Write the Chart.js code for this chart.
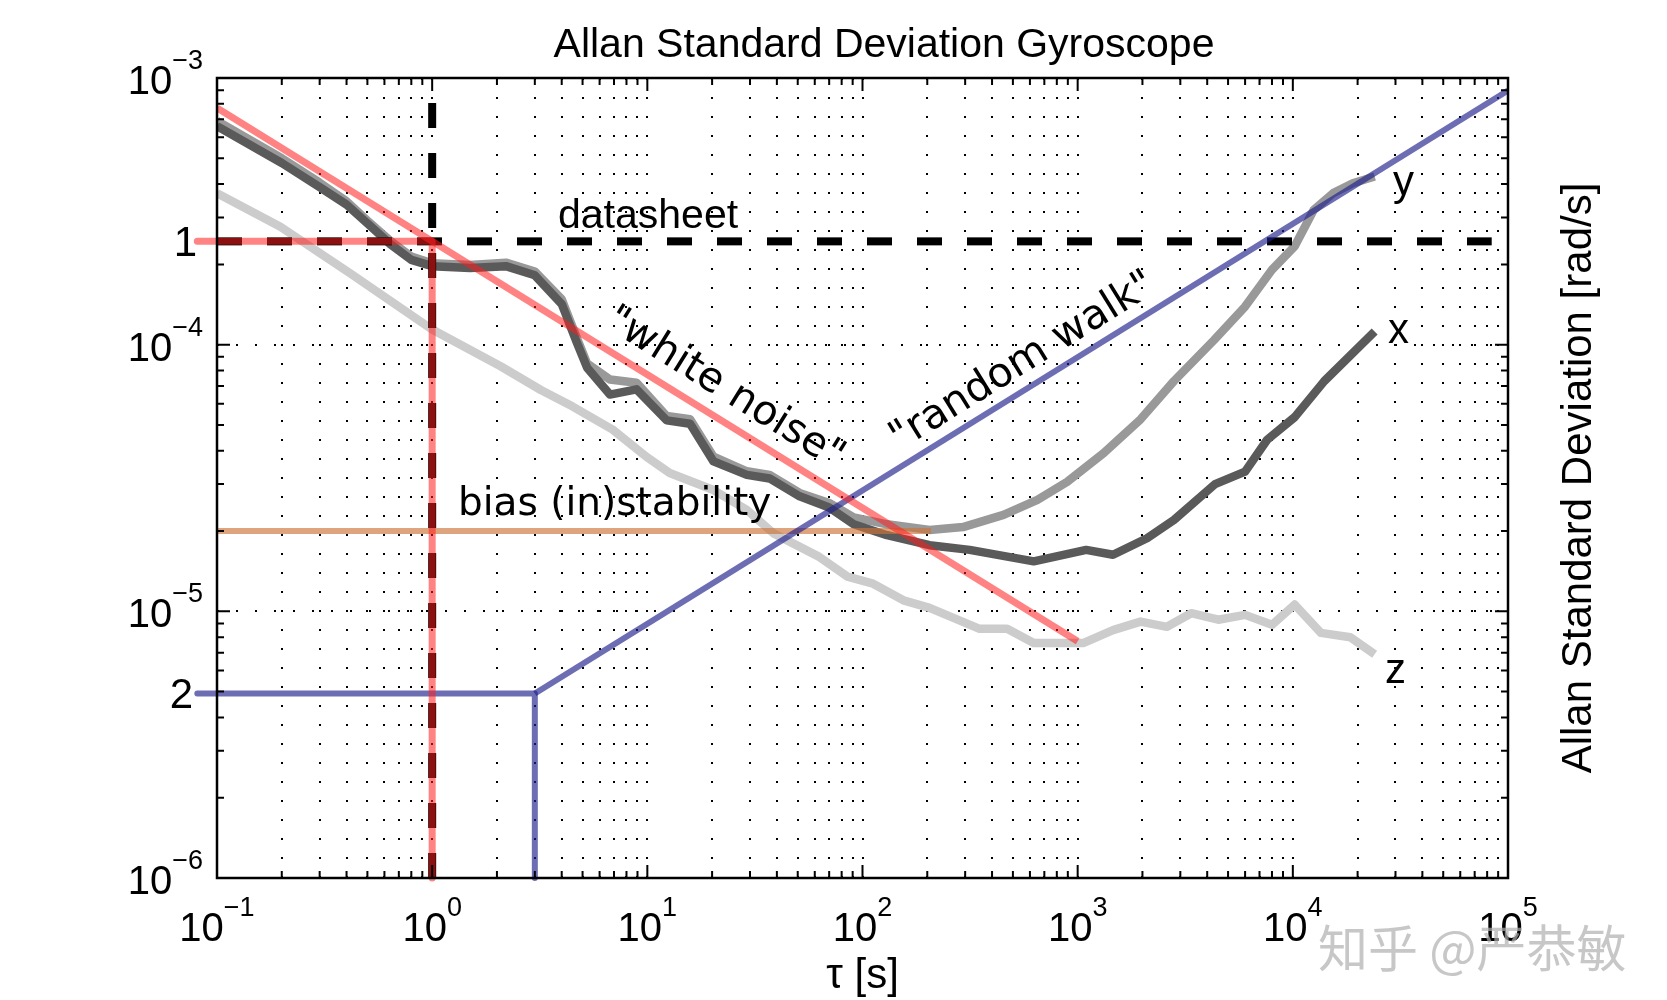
<!DOCTYPE html>
<html>
<head>
<meta charset="utf-8">
<script src="https://cdn.jsdelivr.net/npm/chart.js@4.4.1/dist/chart.umd.min.js"></script>
<style>
  html, body { margin: 0; padding: 0; background: #fff; }
  #wrap { width: 1667px; height: 1000px; }
</style>
</head>
<body>
<div id="wrap"><canvas id="allan"></canvas></div>
<script>
// Allan deviation curves (tau in s, adev in rad/s)
const tauX = [0.1, 0.2, 0.3, 0.4, 0.5, 0.64, 0.8, 1.0, 1.5, 2.2, 3.0, 4.0, 4.7, 5.25, 6.7, 8.9, 12.3, 15.8, 20.3, 29, 37, 51, 70, 91, 130, 205, 315, 625, 1095, 1460, 2100, 2800, 4350, 6000, 7600, 10200, 14000, 24000];
const adevX = [6.6e-4, 4.8e-4, 3.9e-4, 3.35e-4, 2.85e-4, 2.38e-4, 2.08e-4, 1.97e-4, 1.94e-4, 1.97e-4, 1.82e-4, 1.42e-4, 1.02e-4, 8.2e-5, 6.5e-5, 6.8e-5, 5.2e-5, 5.05e-5, 3.65e-5, 3.25e-5, 3.15e-5, 2.7e-5, 2.45e-5, 2.12e-5, 1.93e-5, 1.77e-5, 1.70e-5, 1.54e-5, 1.70e-5, 1.63e-5, 1.88e-5, 2.2e-5, 3.0e-5, 3.34e-5, 4.4e-5, 5.35e-5, 7.3e-5, 1.12e-4];

const tauY = [0.1, 0.2, 0.3, 0.4, 0.5, 0.64, 0.8, 1.0, 1.5, 2.2, 3.0, 4.0, 4.7, 5.25, 6.7, 8.9, 12.3, 15.8, 20.3, 29, 37, 51, 70, 91, 130, 205, 293, 452, 650, 893, 1320, 1960, 2800, 4300, 6000, 8000, 10200, 12500, 15400, 19000, 24000];
const adevY = [6.9e-4, 5.0e-4, 4.05e-4, 3.45e-4, 2.92e-4, 2.45e-4, 2.14e-4, 2.02e-4, 1.99e-4, 2.03e-4, 1.88e-4, 1.48e-4, 1.06e-4, 8.5e-5, 7.4e-5, 7.2e-5, 5.4e-5, 5.25e-5, 3.8e-5, 3.35e-5, 3.25e-5, 2.78e-5, 2.55e-5, 2.25e-5, 2.12e-5, 2.02e-5, 2.07e-5, 2.3e-5, 2.62e-5, 3.06e-5, 3.92e-5, 5.25e-5, 7.3e-5, 1.04e-4, 1.39e-4, 1.91e-4, 2.34e-4, 3.2e-4, 3.7e-4, 4.03e-4, 4.27e-4];

const tauZ = [0.1, 0.197, 0.417, 1.0, 2.08, 3.2, 4.5, 6.9, 9.9, 12.7, 20.3, 29, 38.6, 63, 85, 112, 155, 205, 350, 470, 625, 1060, 1460, 1960, 2600, 3370, 4500, 6000, 8000, 10200, 13500, 18500, 24000];
const adevZ = [3.7e-4, 2.77e-4, 1.85e-4, 1.14e-4, 8.3e-5, 6.76e-5, 5.86e-5, 4.8e-5, 3.8e-5, 3.3e-5, 2.85e-5, 2.4e-5, 1.96e-5, 1.6e-5, 1.35e-5, 1.27e-5, 1.1e-5, 1.03e-5, 8.6e-6, 8.6e-6, 7.6e-6, 7.6e-6, 8.5e-6, 9.15e-6, 8.75e-6, 9.84e-6, 9.3e-6, 9.7e-6, 8.9e-6, 1.06e-5, 8.3e-6, 8.0e-6, 6.9e-6];

// reference lines
const datasheetLevel = 2.44e-4;   // "1"
const walkLevel = 4.92e-6;        // "2"
const biasLevel = 2.0e-5;
const whiteTau = [0.1, 1000];
const whiteAdev = [7.72e-4, 7.72e-6];
const walkTau = [3, 1e5];
const walkAdev = [4.92e-6, 8.98e-4];
const markStartTau = 0.081;       // the red/blue markers start left of the axis
const biasTau = [0.1, 208];
const dashTau = [0.1, 8.4e4];

const HELV = '"Liberation Sans", Arial, Helvetica, sans-serif';
const DEJA = '"DejaVu Sans", Verdana, sans-serif';

function pts(taus, adevs) {
    return taus.map((t, i) => ({x: t, y: adevs[i]}));
}
function isMajor(v) {
    const l = Math.log10(v);
    return Math.abs(l - Math.round(l)) < 1e-9;
}
function logTicks(lo, hi) {
    const out = [];
    for (let e = lo; e < hi; e++) {
        for (let m = 1; m < 10; m++) out.push(m * Math.pow(10, e));
    }
    out.push(Math.pow(10, hi));
    return out;
}

// 10^n label with a raised exponent
function powLabel(ctx, n, x, y, align) {
    const base = '10', sup = (n < 0 ? '\u2212' : '') + Math.abs(n);
    ctx.font = '40px ' + HELV;
    const wb = ctx.measureText(base).width;
    ctx.font = '27px ' + HELV;
    const ws = ctx.measureText(sup).width;
    let left;
    if (align === 'center') left = x - (wb + ws) / 2;
    else left = x - (wb + ws);
    ctx.textAlign = 'left';
    ctx.font = '40px ' + HELV;
    ctx.fillText(base, left, y);
    ctx.font = '27px ' + HELV;
    ctx.fillText(sup, left + wb, y - 25);
}

// text parallel to a straight line on the log-log axes
function alongLine(chart, text, t0, a0, t1, a1, atTau, offset) {
    const {ctx, scales: {x, y}} = chart;
    const x0 = x.getPixelForValue(t0), y0 = y.getPixelForValue(a0);
    const x1 = x.getPixelForValue(t1), y1 = y.getPixelForValue(a1);
    const ang = Math.atan2(y1 - y0, x1 - x0);
    const px = x.getPixelForValue(atTau);
    const py = y0 + (px - x0) * (y1 - y0) / (x1 - x0);
    ctx.save();
    ctx.translate(px, py);
    ctx.rotate(ang);
    ctx.font = '41px ' + DEJA;
    ctx.textAlign = 'center';
    ctx.textBaseline = 'alphabetic';
    ctx.fillStyle = '#000';
    ctx.fillText(text, 0, -offset);
    ctx.restore();
}

const decor = {
    id: 'decor',
    afterDraw(chart) {
        const {ctx, chartArea: a, scales: {x, y}} = chart;
        ctx.save();
        ctx.strokeStyle = '#000';
        ctx.lineWidth = 2;
        ctx.beginPath();
        x.ticks.forEach(t => {
            const px = x.getPixelForValue(t.value);
            const len = isMajor(t.value) ? 13 : 7;
            ctx.moveTo(px, a.bottom); ctx.lineTo(px, a.bottom - len);
            ctx.moveTo(px, a.top); ctx.lineTo(px, a.top + len);
        });
        y.ticks.forEach(t => {
            const py = y.getPixelForValue(t.value);
            const len = isMajor(t.value) ? 13 : 7;
            ctx.moveTo(a.left, py); ctx.lineTo(a.left + len, py);
            ctx.moveTo(a.right, py); ctx.lineTo(a.right - len, py);
        });
        ctx.stroke();
        ctx.lineWidth = 2.5;
        ctx.strokeRect(a.left, a.top, a.right - a.left, a.bottom - a.top);

        // tick labels
        ctx.fillStyle = '#000';
        ctx.textBaseline = 'alphabetic';
        x.ticks.forEach(t => {
            if (!isMajor(t.value)) return;
            powLabel(ctx, Math.round(Math.log10(t.value)), x.getPixelForValue(t.value), a.bottom + 63, 'center');
        });
        y.ticks.forEach(t => {
            if (!isMajor(t.value)) return;
            powLabel(ctx, Math.round(Math.log10(t.value)), a.left - 14, y.getPixelForValue(t.value) + 16, 'right');
        });
        ctx.font = '42px ' + HELV;
        ctx.textAlign = 'right';
        ctx.fillText('1', a.left - 20, y.getPixelForValue(datasheetLevel) + 15);
        ctx.fillText('2', a.left - 24, y.getPixelForValue(walkLevel) + 15);

        // title and axis titles
        ctx.font = '41px ' + HELV;
        ctx.textAlign = 'center';
        ctx.fillText('Allan Standard Deviation Gyroscope', 884, 57);
        ctx.font = '42px ' + HELV;
        ctx.fillText('\u03c4 [s]', (a.left + a.right) / 2, 988);
        ctx.save();
        ctx.translate(1591, (a.top + a.bottom) / 2);
        ctx.rotate(-Math.PI / 2);
        ctx.fillText('Allan Standard Deviation [rad/s]', 0, 0);
        ctx.restore();

        // annotations
        ctx.textAlign = 'left';
        ctx.font = '41px ' + HELV;
        ctx.fillText('datasheet', 558, 228);
        ctx.font = '42px ' + HELV;
        ctx.fillText('y', 1393, 195);
        ctx.fillText('x', 1388, 343);
        ctx.fillText('z', 1385, 683);
        ctx.font = '39px ' + DEJA;
        ctx.fillText('bias (in)stability', 458, 515);
        alongLine(chart, '"white noise"', whiteTau[0], whiteAdev[0], whiteTau[1], whiteAdev[1], 19.5, 18);
        alongLine(chart, '"random walk"', walkTau[0], walkAdev[0], walkTau[1], walkAdev[1], 640, 14);

        // watermark
        ctx.font = '50px "Noto Sans CJK SC", sans-serif';
        ctx.fillStyle = 'rgba(175,175,175,0.7)';
        ctx.fillText('知乎 @严恭敏', 1318, 967);
        ctx.restore();
    }
};

const redMark = [{x: markStartTau, y: datasheetLevel}, {x: 1, y: datasheetLevel}, {x: 1, y: 1e-6}];
const blueMark = [{x: markStartTau, y: walkLevel}, {x: walkTau[0], y: walkLevel}, {x: walkTau[0], y: 1e-6}];

new Chart(document.getElementById('allan'), {
    type: 'line',
    data: {
        datasets: [
            {data: redMark, borderColor: 'rgba(255,30,30,0.55)', borderWidth: 7, borderCapStyle: 'round', clip: false},
            {data: pts(whiteTau, whiteAdev), borderColor: 'rgba(255,30,30,0.55)', borderWidth: 7},
            {data: pts(walkTau, walkAdev), borderColor: 'rgba(30,30,140,0.65)', borderWidth: 6},
            {data: blueMark, borderColor: 'rgba(30,30,140,0.65)', borderWidth: 6, borderCapStyle: 'round', clip: false},
            {data: pts(biasTau, [biasLevel, biasLevel]), borderColor: 'rgba(205,115,55,0.65)', borderWidth: 6},
            {data: pts(dashTau, [datasheetLevel, datasheetLevel]), borderColor: '#000', borderWidth: 8, borderDash: [25, 25]},
            {data: [{x: 1, y: 1e-6}, {x: 1, y: 1e-3}], borderColor: '#000', borderWidth: 8, borderDash: [25, 25]},
            {data: pts(tauX, adevX), borderColor: '#5a5a5a', borderWidth: 8.5},
            {data: pts(tauY, adevY), borderColor: '#999999', borderWidth: 8.5},
            {data: pts(tauZ, adevZ), borderColor: '#cccccc', borderWidth: 8.5}
        ]
    },
    options: {
        responsive: true,
        maintainAspectRatio: false,
        animation: false,
        layout: {padding: {left: 217, right: 159, top: 78, bottom: 122}},
        elements: {
            point: {radius: 0},
            line: {tension: 0, borderJoinStyle: 'round', fill: false}
        },
        plugins: {legend: {display: false}, tooltip: {enabled: false}},
        scales: {
            x: {
                type: 'logarithmic', min: 0.1, max: 1e5,
                afterBuildTicks: s => { s.ticks = logTicks(-1, 5).map(v => ({value: v})); },
                ticks: {display: false},
                grid: {color: '#000', lineWidth: 2, drawTicks: false},
                border: {display: false, dash: [2, 17]}
            },
            y: {
                type: 'logarithmic', min: 1e-6, max: 1e-3,
                afterBuildTicks: s => { s.ticks = logTicks(-6, -3).map(v => ({value: v})); },
                ticks: {display: false},
                grid: {
                    color: c => (c.tick && isMajor(c.tick.value)) ? '#000' : 'rgba(0,0,0,0)',
                    lineWidth: 2, drawTicks: false
                },
                border: {display: false, dash: [2, 17]}
            }
        }
    },
    plugins: [decor]
});
</script>
</body>
</html>
